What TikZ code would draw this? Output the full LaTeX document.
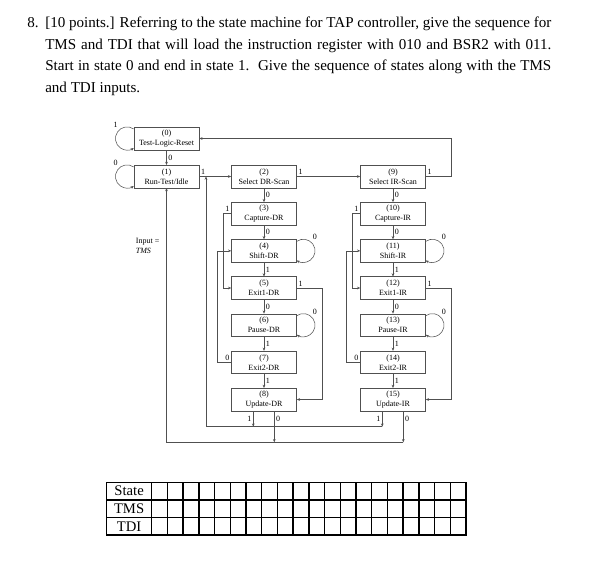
\documentclass[tikz,border=0pt]{standalone}
\usepackage{fontspec}
\setmainfont{Liberation Serif}
\usetikzlibrary{arrows.meta}
\definecolor{wiregray}{RGB}{80,80,80}

\begin{document}
\begin{tikzpicture}[x=0.75pt, y=0.75pt,
  state/.style={draw=wiregray, thin, minimum width=48.75pt, minimum height=16.9pt, inner sep=0pt, align=center, font=\fontsize{6}{7.5}\selectfont},
  lbl/.style={font=\fontsize{6}{7}\selectfont, inner sep=1.2pt},
  edge/.style={draw=wiregray, thin, -{Stealth[length=2.4pt,width=2pt]}},
  cell/.style={line width=1pt}]

\useasboundingbox (0,0) rectangle (589,-586);

% Question
\node[anchor=north east, inner sep=0pt, font=\fontsize{11.3}{16.1}\selectfont] (num) at (39,-17) {8.};
\node[anchor=north west, inner sep=0pt, text width=379.5pt, align=justify, font=\fontsize{11.3}{16.1}\selectfont] (task) at (45,-17)
  {[10 points.] Referring to the state machine for TAP controller, give the sequence for\linebreak
   TMS and TDI that will load the instruction register with 010 and BSR2 with 011.\linebreak
   Start in state 0 and end in state 1.\ \ Give the sequence of states along with the TMS\linebreak
   and TDI inputs.};

% States
\node[state] (s0) at (166.5,-138.5) {(0)\\Test-Logic-Reset};
\node[state] (s1) at (166.5,-176.5) {(1)\\Run-Test/Idle};
\foreach \n/\t [count=\k from 0] in {2/Select DR-Scan, 3/Capture-DR, 4/Shift-DR, 5/Exit1-DR, 6/Pause-DR, 7/Exit2-DR, 8/Update-DR}
  \node[state] (s\n) at (264,{-176.5-37.17*\k}) {(\n)\\\t};
\foreach \n/\t [count=\k from 0] in {9/Select IR-Scan, 10/Capture-IR, 11/Shift-IR, 12/Exit1-IR, 13/Pause-IR, 14/Exit2-IR, 15/Update-IR}
  \node[state] (s\n) at (393,{-176.5-37.17*\k}) {(\n)\\\t};

\node[lbl, anchor=west, align=left, font=\fontsize{6}{7.5}\selectfont] (inp) at (134,-246) {Input =\\\textit{TMS}};

% Straight transitions
\foreach \a/\b/\v in {0/1/0, 2/3/0, 3/4/0, 4/5/1, 5/6/0, 6/7/1, 7/8/1, 9/10/0, 10/11/0, 11/12/1, 12/13/0, 13/14/1, 14/15/1}
  \draw[edge] (s\a) -- node[lbl, right]{\v} (s\b);
\draw[edge] (s1) -- node[lbl, above right, pos=0]{1} (s2);
\draw[edge] (s2) -- node[lbl, above right, pos=0]{1} (s9);
\draw[edge] (s9.east) -- node[lbl, above right, pos=0]{1} ++(25,0) |- (s0.east);

% Side paths of each column
\foreach \c/\sh/\ea/\eb/\u in {3/4/5/7/8, 10/11/12/14/15} {
  \draw[edge] (s\c.west) -- node[lbl, above left, pos=0]{1} ++(-8.3,0) |- (s\ea.west);
  \draw[edge] (s\eb.west) -- node[lbl, above left, pos=0]{0} ++(-14.3,0) |- (s\sh.west);
  \draw[edge] (s\ea.east) -- node[lbl, above right, pos=0]{1} ++(25,0) |- (s\u.east);
}

% Self loops
\foreach \n/\v in {0/1, 1/0} {
  \draw[edge] ([shift={(0,9.5)}]s\n.west) arc[start angle=55, end angle=305, radius=11.6];
  \node[lbl] at ([shift={(-18,13.5)}]s\n.west) {\v};
}
\foreach \n in {4,6,11,13} {
  \draw[edge] ([shift={(0,9.5)}]s\n.east) arc[start angle=125, end angle=-125, radius=11.6];
  \node[lbl] at ([shift={(18,13.5)}]s\n.east) {0};
}

% Update exits
\coordinate (busA) at (206,-426.7);
\coordinate (busB) at (166.5,-442.3);
\foreach \n in {8,15} {
  \coordinate (one\n) at ([shift={(-10.7,0)}]s\n.south);
  \coordinate (zero\n) at ([shift={(10.3,0)}]s\n.south);
  \draw[edge] (one\n) -- node[lbl, left]{1} (one\n |- busA);
  \draw[edge] (zero\n) -- node[lbl, right, pos=0.25]{0} (zero\n |- busB);
}
\draw[edge] (one15 |- busA) -- (busA) -- (busA |- s1.east);
\draw[edge] (zero15 |- busB) -- (busB) -- (s1.south);

% Answer table
\draw[cell] (106.5,-482.3) rectangle (466,-535);
\foreach \r in {1,2}
  \draw[cell] (106.5,{-482.3-17.57*\r}) -- (466,{-482.3-17.57*\r});
\foreach \i in {0,...,19}
  \draw[cell] ({151.7+15.715*\i},-482.3) -- ({151.7+15.715*\i},-535);
\foreach \r/\t in {0/State, 1/TMS, 2/TDI}
  \node[font=\fontsize{11}{13}\selectfont, inner sep=0pt] (row\r) at (129.1,{-491.1-17.57*\r}) {\t};

\end{tikzpicture}
\end{document}
